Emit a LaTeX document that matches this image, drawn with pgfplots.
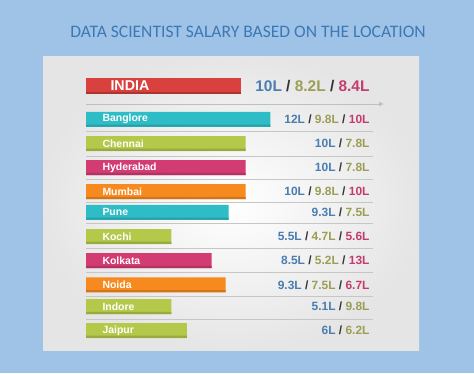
\documentclass[border=0pt]{standalone}
\usepackage{pgfplots}
\pgfplotsset{compat=1.18}
\usepackage{fontspec}
\setmainfont{Liberation Sans}
\newfontfamily\titlefont{Carlito}
\usetikzlibrary{arrows.meta}
\definecolor{bgblue}{HTML}{9EC3E7}
\definecolor{titleblue}{HTML}{3D78B6}
\definecolor{cred}{HTML}{D9413F}
\definecolor{cteal}{HTML}{2EBCC6}
\definecolor{cgreen}{HTML}{B4C84A}
\definecolor{cpink}{HTML}{D23C73}
\definecolor{corange}{HTML}{F78A1F}
\definecolor{vblue}{HTML}{4A7DB0}
\definecolor{volive}{HTML}{9C9E55}
\definecolor{vpink}{HTML}{C43B6E}
\definecolor{vslash}{HTML}{333333}
\newcommand{\vsep}{\ \textcolor{vslash}{/}\ }
\newcommand{\vtwo}[2]{\textcolor{vblue}{#1}\vsep\textcolor{volive}{#2}}
\newcommand{\vthree}[3]{\textcolor{vblue}{#1}\vsep\textcolor{volive}{#2}\vsep\textcolor{vpink}{#3}}
\pgfplotsset{mybar/.style={xbar, bar shift=0pt, draw=none, bar width=15},
  myedge/.style={xbar, bar shift=6.3, draw=none, bar width=2.2}}
\begin{document}
\begin{tikzpicture}
\begin{scope}[x=1bp,y=-1bp,yshift=373bp]
  \fill[bgblue] (0,0) rectangle (474,373);
  \shade[inner color=white, outer color=gray!20] (43,56) rectangle (419,350);
  \node[text=titleblue, font=\titlefont\fontsize{17.6}{17.6}\selectfont] at (248,32) {DATA SCIENTIST SALARY BASED ON THE LOCATION};
  \draw[gray!50, line width=0.8bp, -{Latex[length=5bp,width=5bp]}] (86,104) -- (384,104);
  \foreach \yy in {131,156,179,202,223,248,272,296,319}
    \draw[gray!45, line width=0.8bp] (86,\yy) -- (373,\yy);
\end{scope}
\begin{axis}[at={(0,0)}, anchor=south west, width=474bp, height=373bp, scale only axis,
  xmin=-5.5484, xmax=25.0323, ymin=0, ymax=373, y dir=reverse, hide axis, clip=false]
  % bar lengths in lakh (read from bar ends), y = row position
  \addplot[mybar, fill=cred, bar width=16.5] coordinates {(10.0,86)};
  \addplot[mybar, fill=cteal] coordinates {(11.9,119.3) (9.2,212.3)};
  \addplot[mybar, fill=cgreen] coordinates {(10.3,143.5) (5.5,236.5) (5.5,306.7) (6.5,330.5)};
  \addplot[mybar, fill=cpink] coordinates {(10.3,167.7) (8.1,260.7)};
  \addplot[mybar, fill=corange] coordinates {(10.3,191.7) (9.0,284.8)};
  % darker lower edge of each bar
  \addplot[myedge, fill=cred!80!black, bar shift=7.1] coordinates {(10.0,86)};
  \addplot[myedge, fill=cteal!85!black] coordinates {(11.9,119.3) (9.2,212.3)};
  \addplot[myedge, fill=cgreen!85!black] coordinates {(10.3,143.5) (5.5,236.5) (5.5,306.7) (6.5,330.5)};
  \addplot[myedge, fill=cpink!85!black] coordinates {(10.3,167.7) (8.1,260.7)};
  \addplot[myedge, fill=corange!85!black] coordinates {(10.3,191.7) (9.0,284.8)};
\end{axis}
\begin{scope}[x=1bp,y=-1bp,yshift=373bp]
  \node[anchor=west, text=white, font=\bfseries\fontsize{14.3}{14.3}\selectfont] at (107,86) {INDIA};
  \foreach \yy/\nm in {119.3/Banglore,143.5/Chennai,167.7/Hyderabad,191.7/Mumbai,212.3/Pune,236.5/Kochi,260.7/Kolkata,284.8/Noida,306.7/Indore,330.5/Jaipur}
    \node[anchor=west, text=white, font=\bfseries\fontsize{10.5}{10.5}\selectfont] at (99,\yy) {\nm};
  \node[anchor=east, font=\bfseries\fontsize{15.5}{15.5}\selectfont] at (373,86) {\vthree{10L}{8.2L}{8.4L}};
  \begin{scope}[every node/.style={anchor=east, font=\bfseries\fontsize{12}{12}\selectfont}]
    \node at (373,119.3) {\vthree{12L}{9.8L}{10L}};
    \node at (373,143.5) {\vtwo{10L}{7.8L}};
    \node at (373,167.7) {\vtwo{10L}{7.8L}};
    \node at (373,191.7) {\vthree{10L}{9.8L}{10L}};
    \node at (373,212.3) {\vtwo{9.3L}{7.5L}};
    \node at (373,236.5) {\vthree{5.5L}{4.7L}{5.6L}};
    \node at (373,260.7) {\vthree{8.5L}{5.2L}{13L}};
    \node at (373,284.8) {\vthree{9.3L}{7.5L}{6.7L}};
    \node at (373,306.7) {\vtwo{5.1L}{9.8L}};
    \node at (373,330.5) {\vtwo{6L}{6.2L}};
  \end{scope}
\end{scope}
\end{tikzpicture}
\end{document}
